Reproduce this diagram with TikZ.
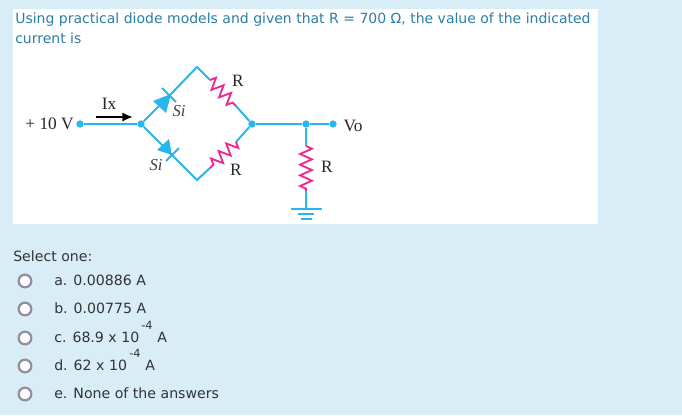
\documentclass[tikz,border=0pt]{standalone}
\usepackage{fontspec}
\setmainfont{DejaVu Sans}
\newfontfamily\circfont{Liberation Serif}
\usepackage{tikz}
\usetikzlibrary{arrows.meta,decorations.pathmorphing}
\definecolor{pagebg}{HTML}{D9EDF7}
\definecolor{wirecol}{HTML}{29B6EC}
\definecolor{rescol}{HTML}{EC2A90}
\definecolor{headcol}{HTML}{2B7EA6}
\definecolor{optcol}{HTML}{333333}
\definecolor{radiocol}{HTML}{8F8F9D}

\begin{document}
\begin{tikzpicture}[
	x=0.75pt,y=-0.75pt,
	wire/.style={draw=wirecol,line width=1.5pt},
	res/.style={draw=rescol,line width=1.4pt,decorate,decoration={zigzag,segment length=8pt,amplitude=4.4pt}},
	dot/.style={circle,fill=wirecol,inner sep=0pt,minimum size=5.5pt},
	head/.style={anchor=base west,inner sep=0pt,text=headcol,font=\fontsize{10.5}{12}\selectfont},
	opt/.style={anchor=base west,inner sep=0pt,text=optcol,font=\fontsize{10.6}{12}\selectfont},
	exptext/.style={anchor=base west,inner sep=0pt,text=optcol,font=\fontsize{8.5}{10}\selectfont},
	radio/.style={circle,draw=radiocol,fill=white,line width=1.7pt,inner sep=0pt,minimum size=9.5pt},
	lab/.style={inner sep=0pt,text=black!85,font=\circfont\fontsize{13}{15}\selectfont},
	si/.style={inner sep=0pt,text=black!75,font=\circfont\itshape\fontsize{12.5}{15}\selectfont}]

\useasboundingbox (0,0) rectangle (682,415);
\fill[pagebg] (0,0) rectangle (682,415);
\fill[white] (13,9) rectangle (598,224);

\node[head] (line1) at (15,23) {Using practical diode models and given that R = 700 Ω, the value of the indicated};
\node[head] (line2) at (15,43) {current is};

% bridge
\node[dot] (src) at (80,124) {};
\node[dot] (left) at (141,124) {};
\node[dot] (right) at (252,124) {};
\node[dot] (tap) at (306,124) {};
\node[dot] (out) at (333,124) {};
\coordinate (top) at (197,67);
\coordinate (bot) at (197,180);
\coordinate (dtip) at (171,94);
\coordinate (btip) at (172,155);
\coordinate (r1a) at (210,80);
\coordinate (r1b) at (236,106);
\coordinate (r2a) at (236,142);
\coordinate (r2b) at (210,168);
\coordinate (r3a) at (306,146);
\coordinate (r3b) at (306,191);
\coordinate (gnd) at (306,209);

\draw[wire] (src) -- (left);
\draw[wire] (right) -- (tap) -- (out);
\draw[wire] (left) -- (dtip) -- (top) -- (r1a);
\draw[wire] (left) -- (btip) -- (bot) -- (r2b);
\draw[wire] (r1b) -- (right) -- (r2a);
\draw[wire] (tap) -- (r3a);
\draw[wire] (r3b) -- (gnd);
\draw[res] (r1a) -- (r1b);
\draw[res] (r2a) -- (r2b);
\draw[res] (r3a) -- (r3b);

% diodes
\fill[wirecol] (dtip) -- (153,101) -- (166,113) -- cycle;
\fill[wirecol] (btip) -- (169,139) -- (157,150) -- cycle;
\draw[wire] (162,88) -- (176,102);
\draw[wire] (166,161) -- (179,148);

% ground
\draw[wire] (291,209) -- (322,209);
\draw[wire] (298,214) -- (314,214);
\draw[wire] (301,219) -- (312,219);

\draw[-{Latex[length=8pt,width=7pt]},line width=2.2pt] (96,117) -- (133,117);

\node[lab] (ix) at (109,104) {Ix};
\node[lab,anchor=east] (vin) at (74,124) {+ 10 V};
\node[lab] (vo) at (353,126) {Vo};
\node[lab] (rtop) at (238,81) {R};
\node[lab] (rbot) at (236,170) {R};
\node[lab] (rout) at (327,167) {R};
\node[si] (si1) at (179,111) {Si};
\node[si] (si2) at (156,165) {Si};

% answers
\node[opt] (select) at (13,261) {Select one:};
\foreach \yy/\txt in {281/a. 0.00886 A,309/b. 0.00775 A,338/c. 68.9 x 10,366/d. 62 x 10,394/e. None of the answers} {
	\node[radio] (r\yy) at (25,\yy) {};
	\node[opt] (t\yy) at (54,\yy+4) {\txt};
}
\node[exptext] (expc) at (141,329) {-4};
\node[opt] (unitc) at (157,342) {A};
\node[exptext] (expd) at (129,357) {-4};
\node[opt] (unitd) at (145,370) {A};
\end{tikzpicture}
\end{document}
